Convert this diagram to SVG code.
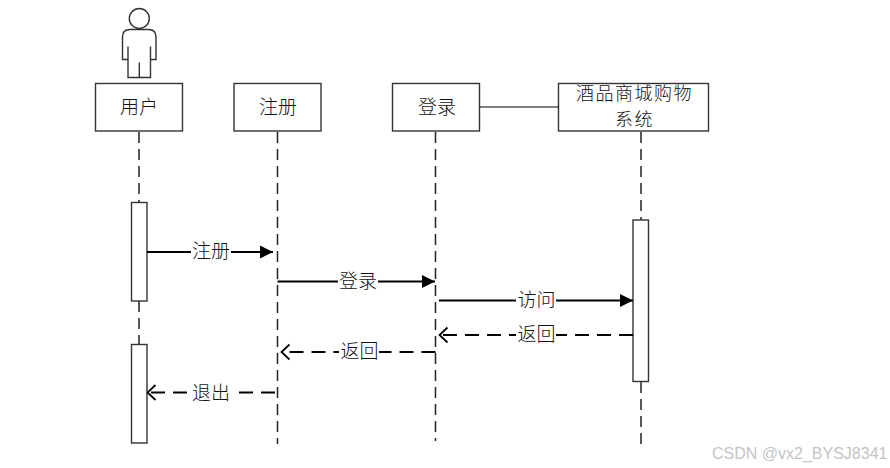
<svg xmlns="http://www.w3.org/2000/svg" width="890" height="468" viewBox="0 0 890 468">
<style>
text{font-family:"Noto Sans CJK SC","Liberation Serif",serif;font-size:19px;font-weight:300;fill:#111;text-anchor:middle}
.box{fill:#fff;stroke:#333;stroke-width:1.4}
.life{fill:none;stroke:#222;stroke-width:1.5;stroke-dasharray:11 6}
.msg{fill:none;stroke:#000;stroke-width:2}
.ret{fill:none;stroke:#000;stroke-width:2;stroke-dasharray:14 8}
.lab{fill:#fff;stroke:none}
text.sys{font-size:18px;letter-spacing:1.500px}
text.wm{font-family:"Liberation Sans",sans-serif;font-size:16px;font-weight:400;fill:#c4c4c4;text-anchor:start}
</style>
<defs>
<marker id="solid" markerUnits="userSpaceOnUse" markerWidth="14" markerHeight="16" refX="13" refY="8" orient="auto"><path d="M0,1.500 L13,8 L0,14.500 Z" fill="#000"/></marker>
<marker id="open" markerUnits="userSpaceOnUse" markerWidth="12" markerHeight="18" refX="10" refY="9" orient="auto"><path d="M1.500,1.500 L9.500,9 L1.500,16.500" fill="none" stroke="#000" stroke-width="1.8"/></marker>
</defs>
<rect width="890" height="468" fill="#fff"/>
<g id="lifelines">
<path class="life" d="M139 132V203M139 301V345"/>
<path class="life" d="M277.500 132V444"/>
<path class="life" d="M435.500 132V441"/>
<path class="life" d="M641 132V220M641 382V444"/>
</g>
<g id="actor" fill="none" stroke="#333" stroke-width="1.4">
<circle cx="139.300" cy="18.500" r="10"/>
<path d="M128 59.500H122.500V37Q122.500 29.500 130 29.500H148.500Q156 29.500 156 37V59.500H150.500M128 46.500V77.500H150.500V46.500M139.300 62.500V77.500"/>
</g>
<g id="node-user"><rect class="box" x="95.500" y="83.500" width="87" height="47.500"/><text x="139" y="113.500">用户</text></g>
<g id="node-register"><rect class="box" x="234" y="83.500" width="87" height="47.500"/><text x="278" y="113.500">注册</text></g>
<g id="node-login"><rect class="box" x="392.500" y="83.500" width="87" height="47.500"/><text x="437" y="113.500">登录</text></g>
<g id="node-system"><rect class="box" x="558.500" y="83.500" width="150" height="47.500"/><text class="sys" x="634.500" y="100">酒品商城购物</text><text class="sys" x="634.500" y="126.400">系统</text></g>
<g id="activation-1"><rect class="box" x="131.500" y="202.500" width="15.500" height="98.500"/></g>
<g id="activation-2"><rect class="box" x="131.500" y="344.500" width="15.500" height="98.500"/></g>
<g id="activation-3"><rect class="box" x="633" y="220" width="15.500" height="161.500"/></g>
<g id="connectors">
<path d="M479.500 107H558.500" fill="none" stroke="#000" stroke-width="1.200"/>
<path class="msg" d="M147 252H273" marker-end="url(#solid)"/>
<path class="msg" d="M277.500 281.500H435" marker-end="url(#solid)"/>
<path class="msg" d="M439 300.500H633" marker-end="url(#solid)"/>
<path class="ret" d="M633 335H439" marker-end="url(#open)"/>
<path class="ret" d="M435.500 352H281" marker-end="url(#open)"/>
<path class="ret" d="M275 392.500H147" marker-end="url(#open)"/>
<rect class="lab" x="191" y="241" width="40" height="22"/><text x="211" y="258">注册</text>
<rect class="lab" x="338" y="271" width="40" height="22"/><text x="358" y="288">登录</text>
<rect class="lab" x="516" y="290" width="40" height="22"/><text x="536.500" y="307">访问</text>
<rect class="lab" x="516" y="324" width="40" height="22"/><text x="536.500" y="341">返回</text>
<rect class="lab" x="339" y="341" width="40" height="22"/><text x="359.500" y="358">返回</text>
<rect class="lab" x="191" y="382" width="40" height="22"/><text x="211" y="400">退出</text>
</g>
<text class="wm" x="712" y="458.500">CSDN @vx2_BYSJ8341</text>
</svg>
